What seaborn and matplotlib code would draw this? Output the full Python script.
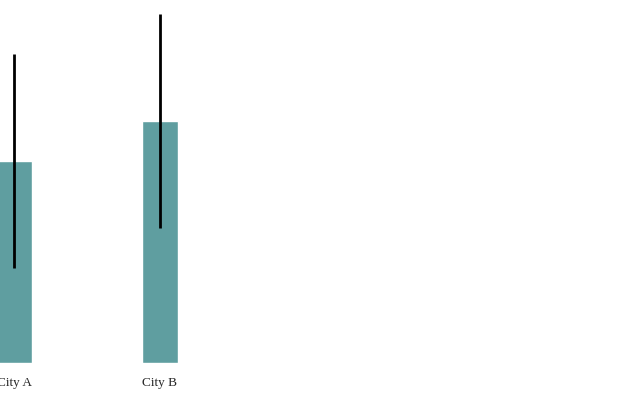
import matplotlib
matplotlib.use("Agg")
import matplotlib.pyplot as plt
import seaborn as sns
import pandas as pd

# chart data
cities = ["City A", "City B"]
means = [50, 60]
errors = [26.5, 26.5]

sns.set_style("white")
plt.rcParams["font.family"] = ["Liberation Serif", "DejaVu Serif"]

df = pd.DataFrame({"city": cities, "value": means})

fig = plt.figure(figsize=(6.4, 4.0), dpi=100)
ax = fig.add_axes([0, 37 / 400, 1, 363 / 400])

sns.barplot(data=df, x="city", y="value", color="#5f9ea0", saturation=1,
            width=0.25, errorbar=None, ax=ax)
ax.errorbar(range(len(cities)), means, yerr=errors, fmt="none",
            ecolor="black", elinewidth=2, capsize=0)

ax.set_xlim(-14 / 146, 626 / 146)
ax.set_ylim(0, 90)
ax.set_xlabel("")
ax.set_ylabel("")
ax.set_yticks([])
ax.tick_params(axis="x", length=0, pad=10, labelsize=9.5)
for s in ax.spines.values():
    s.set_visible(False)

fig.savefig("out.png", dpi=100)
